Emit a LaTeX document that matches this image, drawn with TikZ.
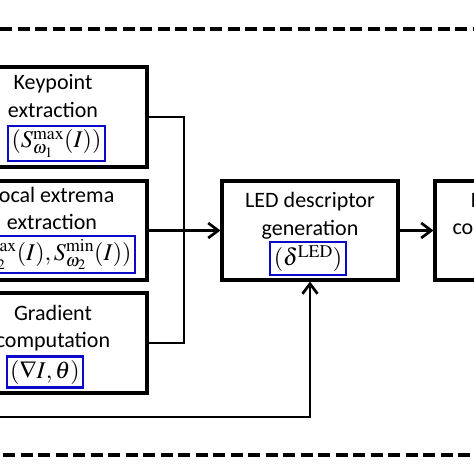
\documentclass[tikz,border=0pt]{standalone}
\usepackage{mathptmx}
\usepackage[no-math]{fontspec}
\setmainfont{Carlito}
\usetikzlibrary{arrows.meta,positioning}
\definecolor{formulablue}{RGB}{10,10,200}

\begin{document}
\begin{tikzpicture}[
    x=1pt, y=-1pt,
    block/.style={rectangle, draw, line width=3.1pt, minimum height=99pt, inner sep=0pt},
    blocktext/.style={align=center, inner sep=0pt, font=\fontsize{22}{27.5}\selectfont},
    formula/.style={draw=formulablue, line width=2.2pt, inner sep=3.5pt, font=\fontsize{24}{28}\selectfont},
    link/.style={line width=2.7pt},
    arrow/.style={link, -{Straight Barb[length=10pt,width=15pt]}},
    separator/.style={line width=3.5pt, dash pattern=on 12pt off 5.5pt}
]
\useasboundingbox (0,0) rectangle (474,474);
\clip (0,0) rectangle (474,474);

% Separators
\coordinate (topL) at (0,29);
\coordinate (topR) at (480,29);
\coordinate (botL) at (3,455);
\coordinate (botR) at (480,455);
\draw[separator] (topL) -- (topR);
\draw[separator] (botL) -- (botR);

% Input blocks
\node[block, minimum width=190pt, minimum height=100pt] (kp) at (52,117) {};
\node[block, minimum width=190pt] (le) at (52,230.5) {};
\node[block, minimum width=190pt, minimum height=100pt] (grad) at (52,343) {};

\node[blocktext] (kpT) at (53,96) {Keypoint\\extraction};
\node[formula] (kpF) at (56.5,143.5) {$(S_{\omega_1}^{\max}(I))$};
\node[blocktext] (leT) at (52,208.5) {Local extrema\\extraction};
\node[formula, anchor=east] (leF) at (136,254.5) {$(S_{\omega_2}^{\max}(I),S_{\omega_2}^{\min}(I))$};
\node[blocktext] (gradT) at (53,328) {Gradient\\computation};
\node[formula] (gradF) at (45,372) {$(\nabla I,\theta)$};

% LED block
\node[block, minimum width=176pt] (led) at (310,230.5) {};
\node[blocktext] (ledT) at (310,215.5) {LED descriptor\\generation};
\node[formula] (ledF) at (308,258.5) {$(\delta^{\mathrm{LED}})$};

% Next block
\node[block, minimum width=147pt] (cmp) at (508.5,230.5) {};
\node[blocktext] (cmpT) at (505,215.5) {Feature\\comparison};

% Connectors
\coordinate (junction) at (184,230.5);
\coordinate (feedback) at (-5,417);
\draw[link] (kp.east) -| (junction) |- (grad.east);
\draw[arrow] (le.east) -- (led.west);
\draw[arrow] (led.east) -- (cmp.west);
\draw[arrow] (feedback) -| (led.south);

\end{tikzpicture}
\end{document}
